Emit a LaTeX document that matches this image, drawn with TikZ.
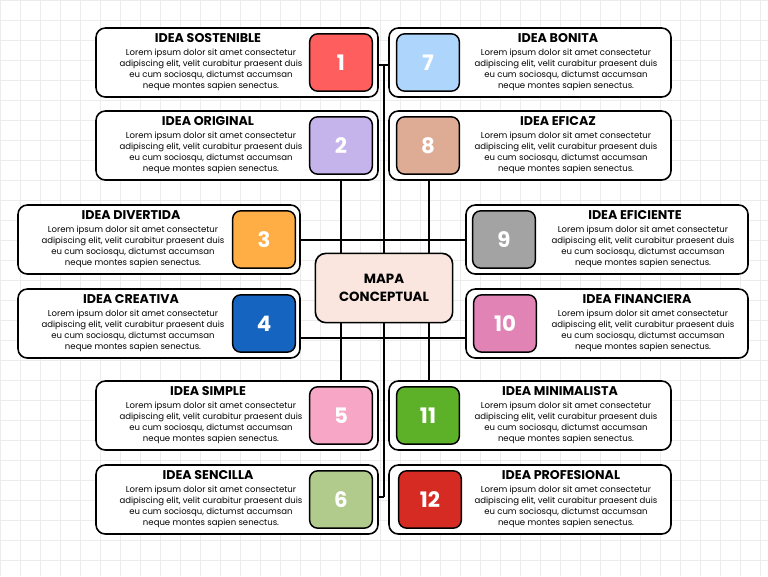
\documentclass[tikz,border=0pt]{standalone}
\usepackage{fontspec}
\setmainfont{Poppins}
\begin{document}
\begin{tikzpicture}[x=0.75pt,y=-0.75pt,
  card/.style={draw=black,line width=1.2pt,rounded corners=7pt,fill=white},
  sq/.style={draw=black,line width=1.1pt,rounded corners=6pt,minimum width=47pt,minimum height=43pt,font=\fontsize{16}{16}\bfseries\selectfont,text=white,inner sep=0pt},
  ttl/.style={font=\fontsize{9.5}{10}\bfseries\selectfont},
  body/.style={font=\fontsize{6.4}{8.2}\selectfont,align=center},
  conn/.style={line width=1.1pt}]
\useasboundingbox (0,0) rectangle (768,576);
\fill[white] (0,0) rectangle (768,576);
\foreach \i in {0,20,...,760} \draw[gray!15] (\i,0) -- (\i,576);
\foreach \j in {0,20,...,570} \draw[gray!15] (0,\j) -- (768,\j);
\newcommand{\mycard}[9]{%
  \draw[card] (#2,#3) rectangle ++(282,69);
  \node[sq,fill=#6] (#1) at (#4,#3+34.5) {#5};
  \node[ttl] (#1t) at (#8,#3+10) {#7};
  \node[body] (#1b) at (#9,#3+42) {Lorem ipsum dolor sit amet consectetur\\adipiscing elit, velit curabitur praesent duis\\eu cum sociosqu, dictumst accumsan\\neque montes sapien senectus.};}
% connectors first
\coordinate (top) at (384,65);
\coordinate (bot) at (384,497);
\draw[conn] (top) -- (bot);
\draw[conn] (298,240) -- (472,240);
\draw[conn] (298,338) -- (472,338);
\draw[conn] (341,150) -- (341,260);
\draw[conn] (429,150) -- (429,260);
\draw[conn] (341,320) -- (341,420);
\draw[conn] (429,320) -- (429,420);
\draw[conn] (373,65) -- (396,65);
\draw[conn] (373,497) -- (384,497);
\definecolor{c1}{HTML}{FF5E5E}\definecolor{c2}{HTML}{C5B3EC}\definecolor{c3}{HTML}{FFAD45}
\definecolor{c4}{HTML}{1565C0}\definecolor{c5}{HTML}{F7A6C6}\definecolor{c6}{HTML}{B0CB8C}
\definecolor{c7}{HTML}{AED6FC}\definecolor{c8}{HTML}{DEAB95}\definecolor{c9}{HTML}{A3A3A3}
\definecolor{c10}{HTML}{E184B5}\definecolor{c11}{HTML}{5DB129}\definecolor{c12}{HTML}{D52B23}
\definecolor{cen}{HTML}{FAE6DF}
\mycard{n1}{96}{28}{341}{1}{c1}{IDEA SOSTENIBLE}{208}{211}
\mycard{n2}{96}{111}{341}{2}{c2}{IDEA ORIGINAL}{208}{211}
\mycard{n3}{18}{205}{264}{3}{c3}{IDEA DIVERTIDA}{131}{133}
\mycard{n4}{18}{289}{264}{4}{c4}{IDEA CREATIVA}{131}{133}
\mycard{n5}{96}{381}{341}{5}{c5}{IDEA SIMPLE}{208}{211}
\mycard{n6}{96}{465}{341}{6}{c6}{IDEA SENCILLA}{208}{211}
\mycard{n7}{389}{28}{428}{7}{c7}{IDEA BONITA}{558}{566}
\mycard{n8}{389}{111}{428}{8}{c8}{IDEA EFICAZ}{558}{566}
\mycard{n9}{466}{205}{504}{9}{c9}{IDEA EFICIENTE}{635}{643}
\mycard{n10}{466}{289}{505}{10}{c10}{IDEA FINANCIERA}{637}{643}
\mycard{n11}{389}{381}{428}{11}{c11}{IDEA MINIMALISTA}{560}{566}
\mycard{n12}{389}{465}{430}{12}{c12}{IDEA PROFESIONAL}{561}{566}
\node[draw=black,line width=1.2pt,rounded corners=8pt,fill=cen,minimum width=103pt,minimum height=52pt,align=center,font=\fontsize{10}{13}\bfseries\selectfont] (c) at (384,288) {MAPA\\CONCEPTUAL};
\end{tikzpicture}
\end{document}
